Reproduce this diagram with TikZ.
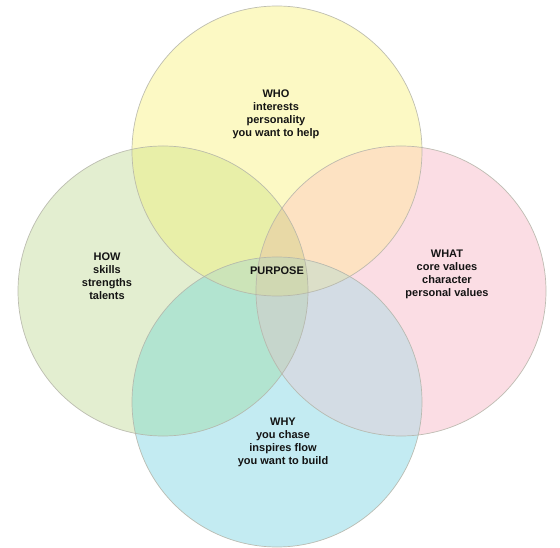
\documentclass[tikz,border=0pt]{standalone}
\usepackage{fontspec}
\setmainfont{Liberation Sans}
\definecolor{cyel}{HTML}{FCF9C4}
\definecolor{cgrn}{HTML}{E3EED0}
\definecolor{cpnk}{HTML}{FBDDE4}
\definecolor{ccyn}{HTML}{C3EBF2}
\definecolor{cyg}{HTML}{E8EFA8}
\definecolor{cyp}{HTML}{FDE2C2}
\definecolor{cgc}{HTML}{B2E4D0}
\definecolor{cpc}{HTML}{D3DCE4}
\definecolor{cygc}{HTML}{CCE4B8}
\definecolor{cypc}{HTML}{DCDFC8}
\definecolor{cygp}{HTML}{E8D9A6}
\definecolor{cgpc}{HTML}{C6D6CC}
\definecolor{cquad}{HTML}{D0D8B2}
\definecolor{cedge}{HTML}{B4B4A8}
\begin{document}
\begin{tikzpicture}[x=1pt,y=-1pt,
  ring/.style={draw=cedge,line width=0.7pt,opacity=0.85},
  lbl/.style={align=center,font=\fontsize{11}{13}\selectfont\bfseries,text=black!92,inner sep=0pt}]
\useasboundingbox[fill=white] (0,0) rectangle (560,548);
\def\Y{(277,151) circle (145)}
\def\G{(163,291) circle (145)}
\def\P{(401,291) circle (145)}
\def\C{(277,402) circle (145)}
% single regions
\fill[cyel] \Y;
\fill[cgrn] \G;
\fill[cpnk] \P;
\fill[ccyn] \C;
% pairs
\begin{scope}\clip \Y; \fill[cyg] \G; \fill[cyp] \P; \end{scope}
\begin{scope}\clip \C; \fill[cgc] \G; \fill[cpc] \P; \end{scope}
% triples
\begin{scope}\clip \Y; \clip \C; \fill[cygc] \G; \fill[cypc] \P; \end{scope}
\begin{scope}\clip \G; \clip \P; \fill[cygp] \Y; \fill[cgpc] \C; \end{scope}
% quadruple
\begin{scope}\clip \G; \clip \P; \clip \Y; \fill[cquad] \C; \end{scope}
% outlines
\draw[ring] \Y;
\draw[ring] \G;
\draw[ring] \P;
\draw[ring] \C;
\node[lbl] (who) at (276,114) {WHO\\interests\\personality\\you want to help};
\node[lbl] (how) at (107,276) {HOW\\skills\\strengths\\talents};
\node[lbl] (what) at (447,274) {WHAT\\core values\\character\\personal values};
\node[lbl] (why) at (283,442) {WHY\\you chase\\inspires flow\\you want to build};
\node[lbl] (purpose) at (277,271) {PURPOSE};
\end{tikzpicture}
\end{document}
